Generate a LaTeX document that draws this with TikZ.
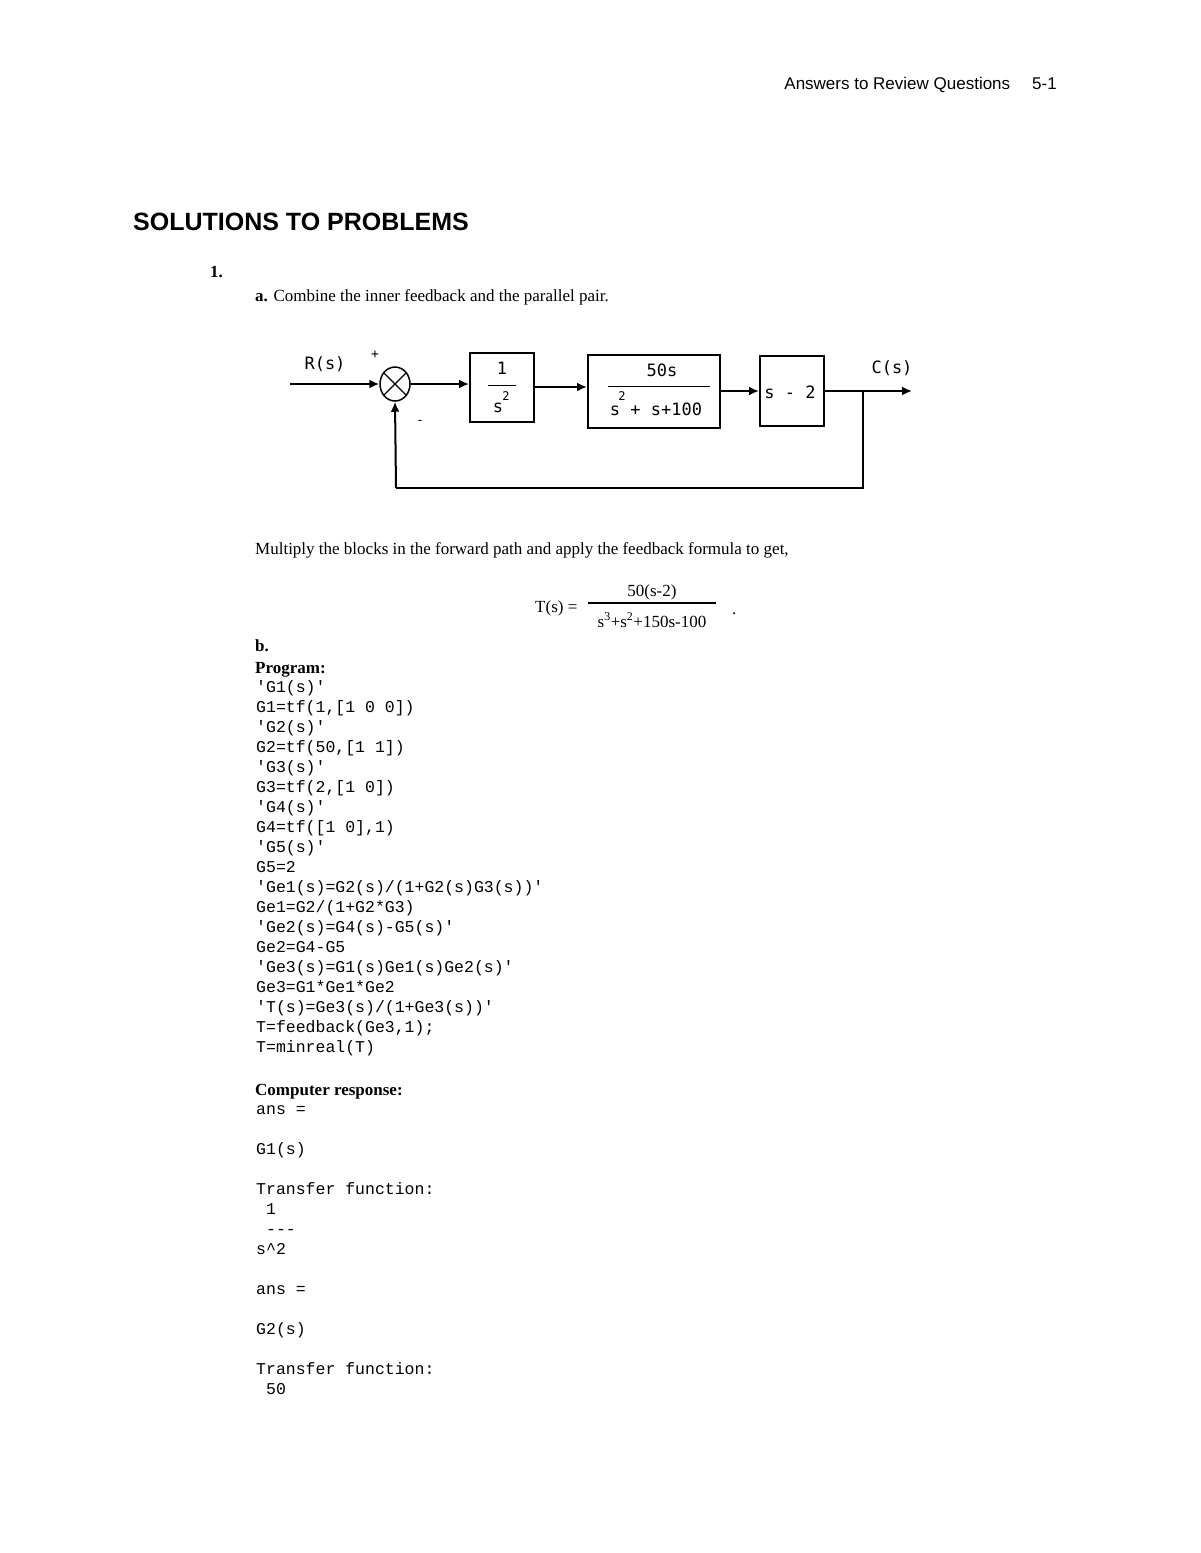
\documentclass[tikz,border=0pt]{standalone}
\usepackage{fontspec}
\setmainfont{Liberation Serif}
\setsansfont{Liberation Sans}
\setmonofont{Liberation Mono}
\newfontfamily\dgfont{DejaVu Sans Mono}
\usetikzlibrary{arrows.meta,shapes.geometric}
\begin{document}
\begin{tikzpicture}[x=1pt,y=-1pt,
  txt/.style={anchor=base west,inner sep=0pt,font=\fontsize{17}{20}\selectfont},
  code/.style={anchor=base west,inner sep=0pt,font=\ttfamily\fontsize{16.5}{20}\selectfont},
  blk/.style={draw,line width=2pt,inner sep=0pt},
  dg/.style={inner sep=0pt,font=\dgfont\fontsize{17}{20}\selectfont},
  sig/.style={line width=2pt,-{Latex[length=10pt,width=9pt]}},
  ln/.style={line width=2pt}]
\useasboundingbox (0,0) rectangle (1200,1553);
\node[anchor=base east,inner sep=0pt,font=\sffamily\fontsize{17}{20}\selectfont] (hdr) at (1057,89) {Answers to Review Questions\hspace{22pt}5-1};
\node[anchor=base west,inner sep=0pt,font=\sffamily\bfseries\fontsize{25}{28}\selectfont] (ttl) at (133,230) {SOLUTIONS TO PROBLEMS};
\node[txt,font=\bfseries\fontsize{17}{20}\selectfont] (one) at (210,277) {1.};
\node[txt] (a) at (255,301) {\textbf{a.} Combine the inner feedback and the parallel pair.};
% diagram
\coordinate (in) at (290,384);
\node[draw,ellipse,line width=1.5pt,minimum width=30pt,minimum height=34pt,inner sep=0pt] (sum) at (395,384) {};
\draw[line width=1.2pt] (sum.45)--(sum.225) (sum.135)--(sum.315);
\node[blk,minimum width=64pt,minimum height=69pt] (b1) at (502,387) {};
\node[dg] (b1n) at (502,368) {1};
\draw[line width=1pt] (488,385)--(516,385);
\node[dg] (b1d) at (498,408) {s};
\node[dg,font=\dgfont\fontsize{12}{14}\selectfont] (b1e) at (506,396) {2};
\node[blk,minimum width=132pt,minimum height=73pt] (b2) at (654,391) {};
\node[dg] (b2n) at (662,370) {50s};
\draw[line width=1pt] (608,386)--(710,386);
\node[dg] (b2d) at (656,409) {s + s+100};
\node[dg,font=\dgfont\fontsize{12}{14}\selectfont] (b2e) at (622,396) {2};
\node[blk,minimum width=64pt,minimum height=70pt] (b3) at (792,391) {};
\node[dg] (b3t) at (790,392) {s - 2};
\coordinate (tap) at (863,391);
\coordinate (out) at (912,391);
\coordinate (fb) at (863,488);
\coordinate (fb2) at (396,488);
\node[dg] (R) at (325,364) {R(s)};
\node[dg] (C) at (892,368) {C(s)};
\node[dg,font=\dgfont\fontsize{13}{14}\selectfont] (plus) at (375,355) {+};
\node[dg,font=\dgfont\fontsize{13}{14}\selectfont] (minus) at (420,422) {-};
\draw[sig] (in)--(sum.west);
\draw[sig] (sum.east)--(b1.west|-sum.east);
\draw[sig] (b1.east)--(b2.west|-b1.east);
\draw[sig] (b2.east)--(b3.west|-b2.east);
\draw[ln] (b3.east|-tap)--(tap);
\draw[sig] (tap)--(out);
\draw[ln] (tap)--(fb)--(fb2);
\draw[sig] (fb2)--(sum.south);
% text
\node[txt] (mult) at (255,554) {Multiply the blocks in the forward path and apply the feedback formula to get,};
\node[txt] (Ts) at (535,612) {T(s) =};
\draw[line width=1.5pt] (588,603)--(716,603);
\node[inner sep=0pt,font=\fontsize{17}{20}\selectfont] (num) at (652,592) {50(s-2)};
\node[inner sep=0pt,font=\fontsize{17}{20}\selectfont] (den) at (652,620) {s\textsuperscript{3}+s\textsuperscript{2}+150s-100};
\node[txt] (dot) at (732,614) {.};
\node[txt,font=\bfseries\fontsize{17}{20}\selectfont] (b) at (255,651) {b.};
\node[txt,font=\bfseries\fontsize{17}{20}\selectfont] (prog) at (255,673) {Program:};
\foreach \t [count=\i] in {'G1(s)',{G1=tf(1,[1 0 0])},'G2(s)',{G2=tf(50,[1 1])},'G3(s)',{G3=tf(2,[1 0])},'G4(s)',{G4=tf([1 0],1)},'G5(s)',G5=2,'Ge1(s)=G2(s)/(1+G2(s)G3(s))',Ge1=G2/(1+G2*G3),'Ge2(s)=G4(s)-G5(s)',Ge2=G4-G5,'Ge3(s)=G1(s)Ge1(s)Ge2(s)',Ge3=G1*Ge1*Ge2,'T(s)=Ge3(s)/(1+Ge3(s))',{T=feedback(Ge3,1);},T=minreal(T)}
  \node[code] (c\i) at (256,{692+20*(\i-1)}) {\t};
\node[txt,font=\bfseries\fontsize{17}{20}\selectfont] (cr) at (255,1095) {Computer response:};
\node[code] (r1) at (256,1114) {ans =};
\node[code] (r2) at (256,1154) {G1(s)};
\node[code] (r3) at (256,1194) {Transfer function:};
\node[code] (r4) at (256,1214) {\ 1};
\node[code] (r5) at (256,1234) {\ ---};
\node[code] (r6) at (256,1254) {s\^{}2};
\node[code] (r7) at (256,1294) {ans =};
\node[code] (r8) at (256,1334) {G2(s)};
\node[code] (r9) at (256,1374) {Transfer function:};
\node[code] (r10) at (256,1394) {\ 50};
\end{tikzpicture}
\end{document}
